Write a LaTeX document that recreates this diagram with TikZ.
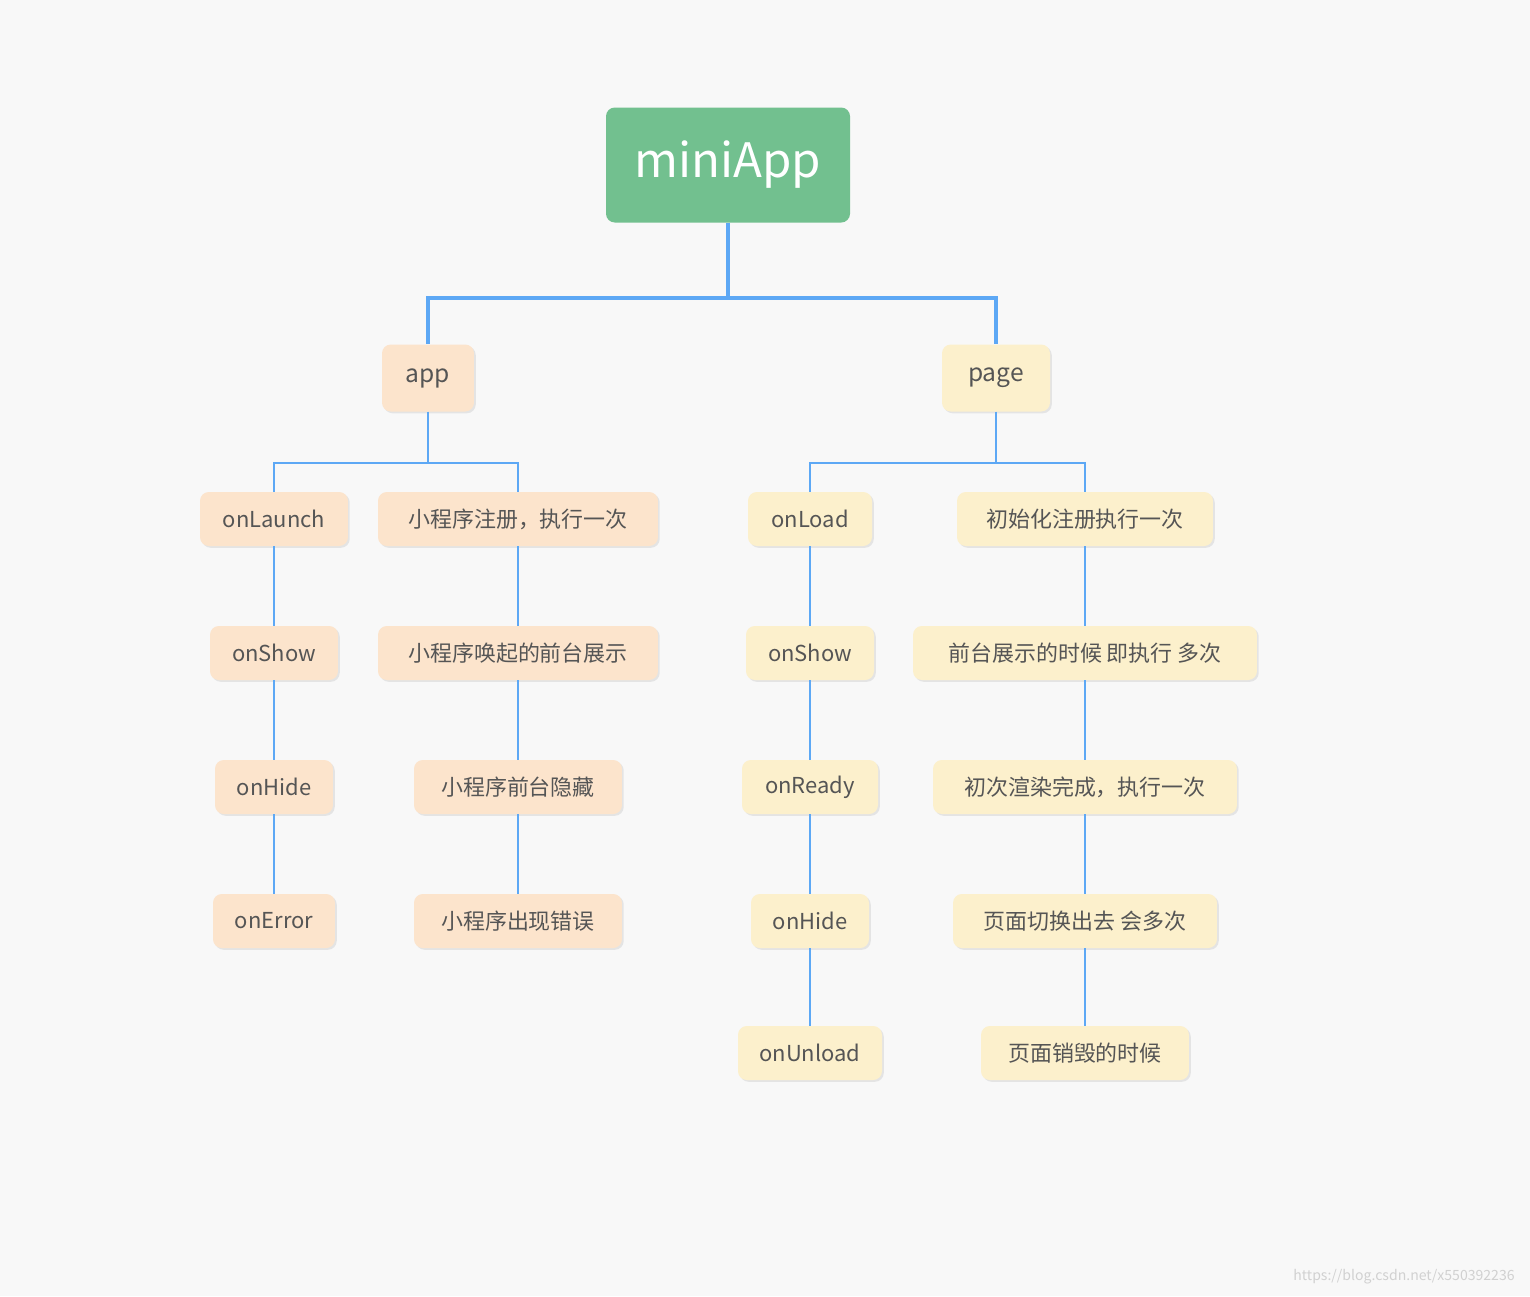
\documentclass[tikz,border=0pt]{standalone}
\usepackage{fontspec}
\setmainfont{Noto Sans CJK SC}
\usetikzlibrary{shadows}
\definecolor{bgcol}{HTML}{F8F8F8}
\definecolor{rootcol}{HTML}{72C08F}
\definecolor{appcol}{HTML}{FCE4CC}
\definecolor{pagecol}{HTML}{FCF0CC}
\definecolor{linecol}{HTML}{5DA8F5}
\definecolor{txtcol}{HTML}{555555}
\tikzset{
  box/.style={rounded corners=5pt, inner sep=0pt, text=txtcol, font=\fontsize{12.5}{14}\selectfont,
    drop shadow={shadow xshift=1pt, shadow yshift=-1pt, fill=black!18}},
  appbox/.style={box, fill=appcol},
  pagebox/.style={box, fill=pagecol},
  link/.style={draw=linecol, line width=0.8pt},
  biglink/.style={draw=linecol, line width=1.8pt}
}
\begin{document}
\begin{tikzpicture}[x=0.02cm, y=-0.02cm]
        \fill[bgcol] (0,0) rectangle (1530,1296);
        \useasboundingbox (0,0) rectangle (1530,1296);

        % Root
        \node at (728, 165) (root) [rounded corners=5pt, fill=rootcol, text=white, minimum width=244*0.02cm, minimum height=115*0.02cm, font=\fontsize{27}{30}\selectfont] {miniApp};

        % Second level
        \node at (428, 378) (app) [appbox, minimum width=1.84cm, minimum height=1.34cm, font=\fontsize{14}{16}\selectfont] {app};
        \node at (996, 378) (page) [pagebox, minimum width=2.16cm, minimum height=1.34cm, font=\fontsize{14}{16}\selectfont] {page};

        % app column: hooks
        \node at (274, 519) (a1) [appbox, minimum width=2.96cm, minimum height=1.08cm] {onLaunch};
        \node at (274, 653) (a2) [appbox, minimum width=2.56cm, minimum height=1.08cm] {onShow};
        \node at (274, 787) (a3) [appbox, minimum width=2.36cm, minimum height=1.08cm] {onHide};
        \node at (274, 921) (a4) [appbox, minimum width=2.44cm, minimum height=1.08cm] {onError};

        % app column: notes
        \node at (518, 519) (b1) [appbox, minimum width=5.6cm, minimum height=1.08cm] {小程序注册，执行一次};
        \node at (518, 653) (b2) [appbox, minimum width=5.6cm, minimum height=1.08cm] {小程序唤起的前台展示};
        \node at (518, 787) (b3) [appbox, minimum width=4.16cm, minimum height=1.08cm] {小程序前台隐藏};
        \node at (518, 921) (b4) [appbox, minimum width=4.16cm, minimum height=1.08cm] {小程序出现错误};

        % page column: hooks
        \node at (810, 519) (c1) [pagebox, minimum width=2.48cm, minimum height=1.08cm] {onLoad};
        \node at (810, 653) (c2) [pagebox, minimum width=2.56cm, minimum height=1.08cm] {onShow};
        \node at (810, 787) (c3) [pagebox, minimum width=2.72cm, minimum height=1.08cm] {onReady};
        \node at (810, 921) (c4) [pagebox, minimum width=2.36cm, minimum height=1.08cm] {onHide};
        \node at (810, 1053) (c5) [pagebox, minimum width=2.88cm, minimum height=1.08cm] {onUnload};

        % page column: notes
        \node at (1085, 519) (d1) [pagebox, minimum width=5.12cm, minimum height=1.08cm] {初始化注册执行一次};
        \node at (1085, 653) (d2) [pagebox, minimum width=6.88cm, minimum height=1.08cm] {前台展示的时候 即执行 多次};
        \node at (1085, 787) (d3) [pagebox, minimum width=6.08cm, minimum height=1.08cm] {初次渲染完成，执行一次};
        \node at (1085, 921) (d4) [pagebox, minimum width=5.28cm, minimum height=1.08cm] {页面切换出去 会多次};
        \node at (1085, 1053) (d5) [pagebox, minimum width=4.16cm, minimum height=1.08cm] {页面销毁的时候};

        % Tree connectors
        \draw[biglink] (root.south) |- (428, 298) -| (app.north);
        \draw[biglink] (root.south) |- (996, 298) -| (page.north);
        \draw[link] (app.south) |- (274, 463) -- (a1.north);
        \draw[link] (app.south) |- (518, 463) -- (b1.north);
        \draw[link] (page.south) |- (810, 463) -- (c1.north);
        \draw[link] (page.south) |- (1085, 463) -- (d1.north);

        % Chains
        \foreach \c/\n in {a/4, b/4, c/5, d/5} {
          \foreach \i [evaluate=\i as \j using int(\i+1)] in {1,...,\numexpr\n-1\relax} {
            \draw[link] (\c\i.south) -- (\c\j.north);
          }
        }

        \node at (1404, 1277) (mark) [text=black!18, font=\fontsize{8}{9}\selectfont] {https://blog.csdn.net/x550392236};
    \end{tikzpicture}
\end{document}
